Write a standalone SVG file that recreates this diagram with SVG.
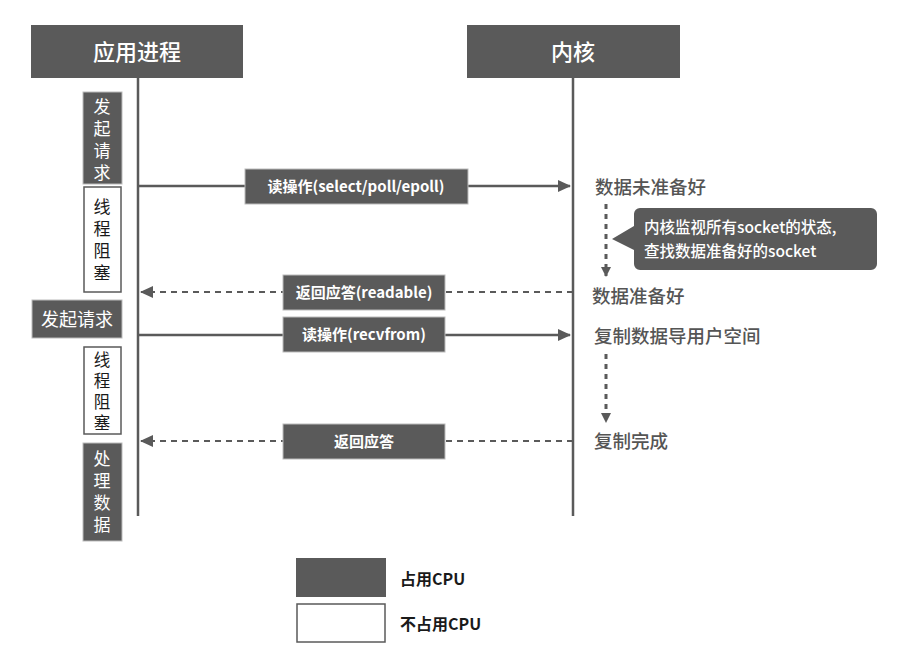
<svg xmlns="http://www.w3.org/2000/svg" width="901" height="664" viewBox="0 0 901 664">
<style>
text{font-family:"Noto Sans CJK SC","Liberation Sans",sans-serif;}
.d{fill:#5a5a5a;stroke:#bbb;stroke-width:1}
.w{fill:#fff;stroke:#5a5a5a;stroke-width:1.5}
.wt{fill:#fff}
.bt{fill:#1a1a1a}
.gt{fill:#555;font-weight:500}
.ln{stroke:#5a5a5a;stroke-width:2.5;fill:none}
.ds{stroke:#5a5a5a;stroke-width:2;stroke-dasharray:6,5;fill:none}
.dt{stroke:#5a5a5a;stroke-width:3;stroke-dasharray:5,5;fill:none}
</style>
<defs>
<marker id="ah" markerWidth="10" markerHeight="10" refX="9" refY="5" orient="auto" markerUnits="userSpaceOnUse"><path d="M0,0 L10,5 L0,10 z" fill="#5a5a5a"/></marker>
<marker id="dh" markerWidth="14" markerHeight="12" refX="12" refY="6" orient="auto" markerUnits="userSpaceOnUse"><path d="M0,0 L13,6 L0,12 z" fill="#5a5a5a"/></marker>
</defs>
<rect width="901" height="664" fill="#fff"/>
<g id="h-app"><rect x="31" y="25" width="212" height="53" fill="#5a5a5a"/><text x="137" y="60" font-size="22" font-weight="500" text-anchor="middle" class="wt">应用进程</text></g>
<g id="h-kernel"><rect x="467" y="25" width="213" height="53" fill="#5a5a5a"/><text x="573" y="60" font-size="22" font-weight="500" text-anchor="middle" class="wt">内核</text></g>
<g id="connectors">
<line x1="138" y1="78" x2="138" y2="516" class="ln"/>
<line x1="573" y1="78" x2="573" y2="516" class="ln"/>
<line x1="138" y1="186" x2="570" y2="186" class="ln" marker-end="url(#dh)"/>
<line x1="573" y1="292" x2="141" y2="292" class="ds" marker-end="url(#dh)"/>
<line x1="138" y1="335" x2="570" y2="335" class="ln" marker-end="url(#dh)"/>
<line x1="573" y1="441" x2="141" y2="441" class="ds" marker-end="url(#dh)"/>
<line x1="606" y1="204" x2="606" y2="276" class="dt" marker-end="url(#ah)"/>
<line x1="606" y1="354" x2="606" y2="422" class="dt" marker-end="url(#ah)"/>
</g>
<g id="l1"><rect x="245" y="169" width="223" height="35" class="d"/><text x="356" y="192" font-size="15" font-weight="bold" text-anchor="middle" class="wt">读操作(select/poll/epoll)</text></g>
<g id="l2"><rect x="283" y="275" width="162" height="35" class="d"/><text x="364" y="298" font-size="15" font-weight="bold" text-anchor="middle" class="wt">返回应答(readable)</text></g>
<g id="l3"><rect x="283" y="317" width="162" height="35" class="d"/><text x="364" y="340" font-size="15" font-weight="bold" text-anchor="middle" class="wt">读操作(recvfrom)</text></g>
<g id="l4"><rect x="283" y="424" width="162" height="35" class="d"/><text x="364" y="447" font-size="15" font-weight="bold" text-anchor="middle" class="wt">返回应答</text></g>
<g id="b1"><rect x="83" y="92" width="39" height="92" class="d"/><text font-size="17" text-anchor="middle" class="wt"><tspan x="102" y="113">发</tspan><tspan x="102" y="135">起</tspan><tspan x="102" y="157">请</tspan><tspan x="102" y="179">求</tspan></text></g>
<g id="b2"><rect x="84" y="187" width="37" height="105" class="w"/><text font-size="17" text-anchor="middle" class="bt"><tspan x="102" y="213">线</tspan><tspan x="102" y="235">程</tspan><tspan x="102" y="257">阻</tspan><tspan x="102" y="279">塞</tspan></text></g>
<g id="b3"><rect x="32" y="300" width="90" height="38" class="d"/><text x="77" y="326" font-size="18" text-anchor="middle" class="wt">发起请求</text></g>
<g id="b4"><rect x="84" y="347" width="37" height="87" class="w"/><text font-size="16.5" text-anchor="middle" class="bt"><tspan x="102" y="366">线</tspan><tspan x="102" y="387">程</tspan><tspan x="102" y="408">阻</tspan><tspan x="102" y="429">塞</tspan></text></g>
<g id="b5"><rect x="83" y="443" width="39" height="98" class="d"/><text font-size="17" text-anchor="middle" class="wt"><tspan x="102" y="465">处</tspan><tspan x="102" y="487">理</tspan><tspan x="102" y="509">数</tspan><tspan x="102" y="531">据</tspan></text></g>
<g id="k1"><text x="595" y="194" font-size="18.5" class="gt">数据未准备好</text></g>
<g id="callout"><path d="M640,208 H871 a6,6 0 0 1 6,6 V264 a6,6 0 0 1 -6,6 H640 a6,6 0 0 1 -6,-6 V250 L612,239 L634,226 V214 a6,6 0 0 1 6,-6 z" fill="#5a5a5a"/><text font-size="15.5" font-weight="500" class="wt"><tspan x="644" y="233">内核监视所有socket的状态,</tspan><tspan x="644" y="257">查找数据准备好的socket</tspan></text></g>
<g id="k2"><text x="592" y="303" font-size="18.5" class="gt">数据准备好</text></g>
<g id="k3"><text x="594" y="343" font-size="18.5" class="gt">复制数据导用户空间</text></g>
<g id="k4"><text x="594" y="448" font-size="18.5" class="gt">复制完成</text></g>
<g id="legend">
<rect x="296" y="558" width="90" height="39" fill="#5a5a5a"/><text x="400" y="585" font-size="16" font-weight="bold" class="bt">占用CPU</text>
<rect x="297" y="604" width="88" height="38" fill="#fff" stroke="#5a5a5a" stroke-width="1.5"/><text x="400" y="630" font-size="16" font-weight="bold" class="bt">不占用CPU</text>
</g>
</svg>
